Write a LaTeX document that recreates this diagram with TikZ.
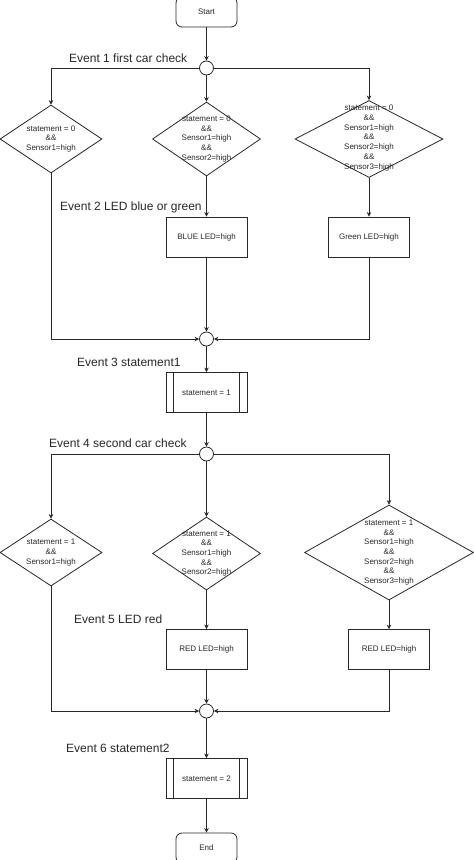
\documentclass[tikz,border=0pt]{standalone}
\usepackage{fontspec}
\setmainfont{Liberation Sans}
\usetikzlibrary{shapes.geometric,arrows.meta}
\definecolor{ink}{RGB}{40,40,40}
\tikzset{
  every node/.style={text=ink},
  small/.style={font=\fontsize{8}{9.7}\selectfont, align=center, inner sep=0pt},
  evlbl/.style={font=\fontsize{12}{14}\selectfont, anchor=base west, inner sep=0pt},
  term/.style={draw=ink, line width=0.8pt, rounded corners=6pt, minimum width=61pt, minimum height=30pt, inner sep=0pt, font=\fontsize{8}{9.7}\selectfont},
  procbox/.style={draw=ink, line width=0.8pt, minimum width=81pt, minimum height=40pt, inner sep=0pt, font=\fontsize{8}{9.7}\selectfont},
  dia/.style={draw=ink, line width=0.8pt, diamond, inner sep=0pt},
  junc/.style={draw=ink, line width=0.8pt, circle, minimum size=14pt, inner sep=0pt},
  arr/.style={draw=ink, line width=0.8pt, -{Stealth[length=4.5pt,width=4.5pt]}},
}
\begin{document}
\begin{tikzpicture}[x=1pt,y=-1pt]
\useasboundingbox (0,0) rectangle (474,860);
\fill[white] (0,0) rectangle (474,860);

% nodes
\node[term] (start) at (206.5,12) {Start};
\node[junc] (j1) at (206.5,68) {};
\node[evlbl] (e1) at (69,62) {Event 1 first car check};

\node[dia, minimum width=102pt, minimum height=68pt] (d11) at (51,139) {};
\node[small] (t11) at (d11) {statement = 0\\\&\&\\Sensor1=high};
\node[dia, minimum width=108pt, minimum height=74pt] (d12) at (206.5,139) {};
\node[small] (t12) at (d12) {statement = 0\\\&\&\\Sensor1=high\\\&\&\\Sensor2=high};
\node[dia, minimum width=148pt, minimum height=77pt] (d13) at (369,139) {};
\node[small] (t13) at ([yshift=1pt]d13.center) {statement = 0\\\&\&\\Sensor1=high\\\&\&\\Sensor2=high\\\&\&\\Sensor3=high};

\node[evlbl] (e2) at (60,210.5) {Event 2 LED blue or green};
\node[procbox] (blue) at (206.5,237) {BLUE LED=high};
\node[procbox] (green) at (369,237) {Green LED=high};

\node[junc] (j2) at (206.5,339) {};
\node[evlbl] (e3) at (77,366) {Event 3 statement1};
\node[procbox] (s1) at (206.5,392.5) {statement = 1};
\draw[ink, line width=0.8pt] ([xshift=8pt]s1.north west) -- ([xshift=8pt]s1.south west);
\draw[ink, line width=0.8pt] ([xshift=-8pt]s1.north east) -- ([xshift=-8pt]s1.south east);

\node[junc] (j3) at (206.5,454) {};
\node[evlbl] (e4) at (49,447.5) {Event 4 second car check};

\node[dia, minimum width=102pt, minimum height=67pt] (d21) at (51,552.5) {};
\node[small] (t21) at (d21) {statement = 1\\\&\&\\Sensor1=high};
\node[dia, minimum width=108pt, minimum height=73pt] (d22) at (206.5,553.5) {};
\node[small] (t22) at (d22) {statement = 1\\\&\&\\Sensor1=high\\\&\&\\Sensor2=high};
\node[dia, minimum width=169pt, minimum height=95pt] (d23) at (389,552.5) {};
\node[small] (t23) at (d23) {statement = 1\\\&\&\\Sensor1=high\\\&\&\\Sensor2=high\\\&\&\\Sensor3=high};

\node[evlbl] (e5) at (74,623) {Event 5 LED red};
\node[procbox] (red1) at (206.5,649.5) {RED LED=high};
\node[procbox] (red2) at (389,649.5) {RED LED=high};

\node[junc] (j4) at (206.5,711) {};
\node[evlbl] (e6) at (66,752) {Event 6 statement2};
\node[procbox] (s2) at (206.5,778.5) {statement = 2};
\draw[ink, line width=0.8pt] ([xshift=8pt]s2.north west) -- ([xshift=8pt]s2.south west);
\draw[ink, line width=0.8pt] ([xshift=-8pt]s2.north east) -- ([xshift=-8pt]s2.south east);

\node[term] (end) at (206.5,848) {End};

% connectors
\draw[arr] (start.south) -- (j1.north);
\draw[arr] (j1.west) -| (d11.north);
\draw[arr] (j1.south) -- (d12.north);
\draw[arr] (j1.east) -| (d13.north);
\draw[arr] (d12.south) -- (blue.north);
\draw[arr] (d13.south) -- (green.north);
\draw[arr] (d11.south) |- (j2.west);
\draw[arr] (blue.south) -- (j2.north);
\draw[arr] (green.south) |- (j2.east);
\draw[arr] (j2.south) -- (s1.north);
\draw[arr] (s1.south) -- (j3.north);
\draw[arr] (j3.west) -| (d21.north);
\draw[arr] (j3.south) -- (d22.north);
\draw[arr] (j3.east) -| (d23.north);
\draw[arr] (d22.south) -- (red1.north);
\draw[arr] (d23.south) -- (red2.north);
\draw[arr] (d21.south) |- (j4.west);
\draw[arr] (red1.south) -- (j4.north);
\draw[arr] (red2.south) |- (j4.east);
\draw[arr] (j4.south) -- (s2.north);
\draw[arr] (s2.south) -- (end.north);
\end{tikzpicture}
\end{document}
